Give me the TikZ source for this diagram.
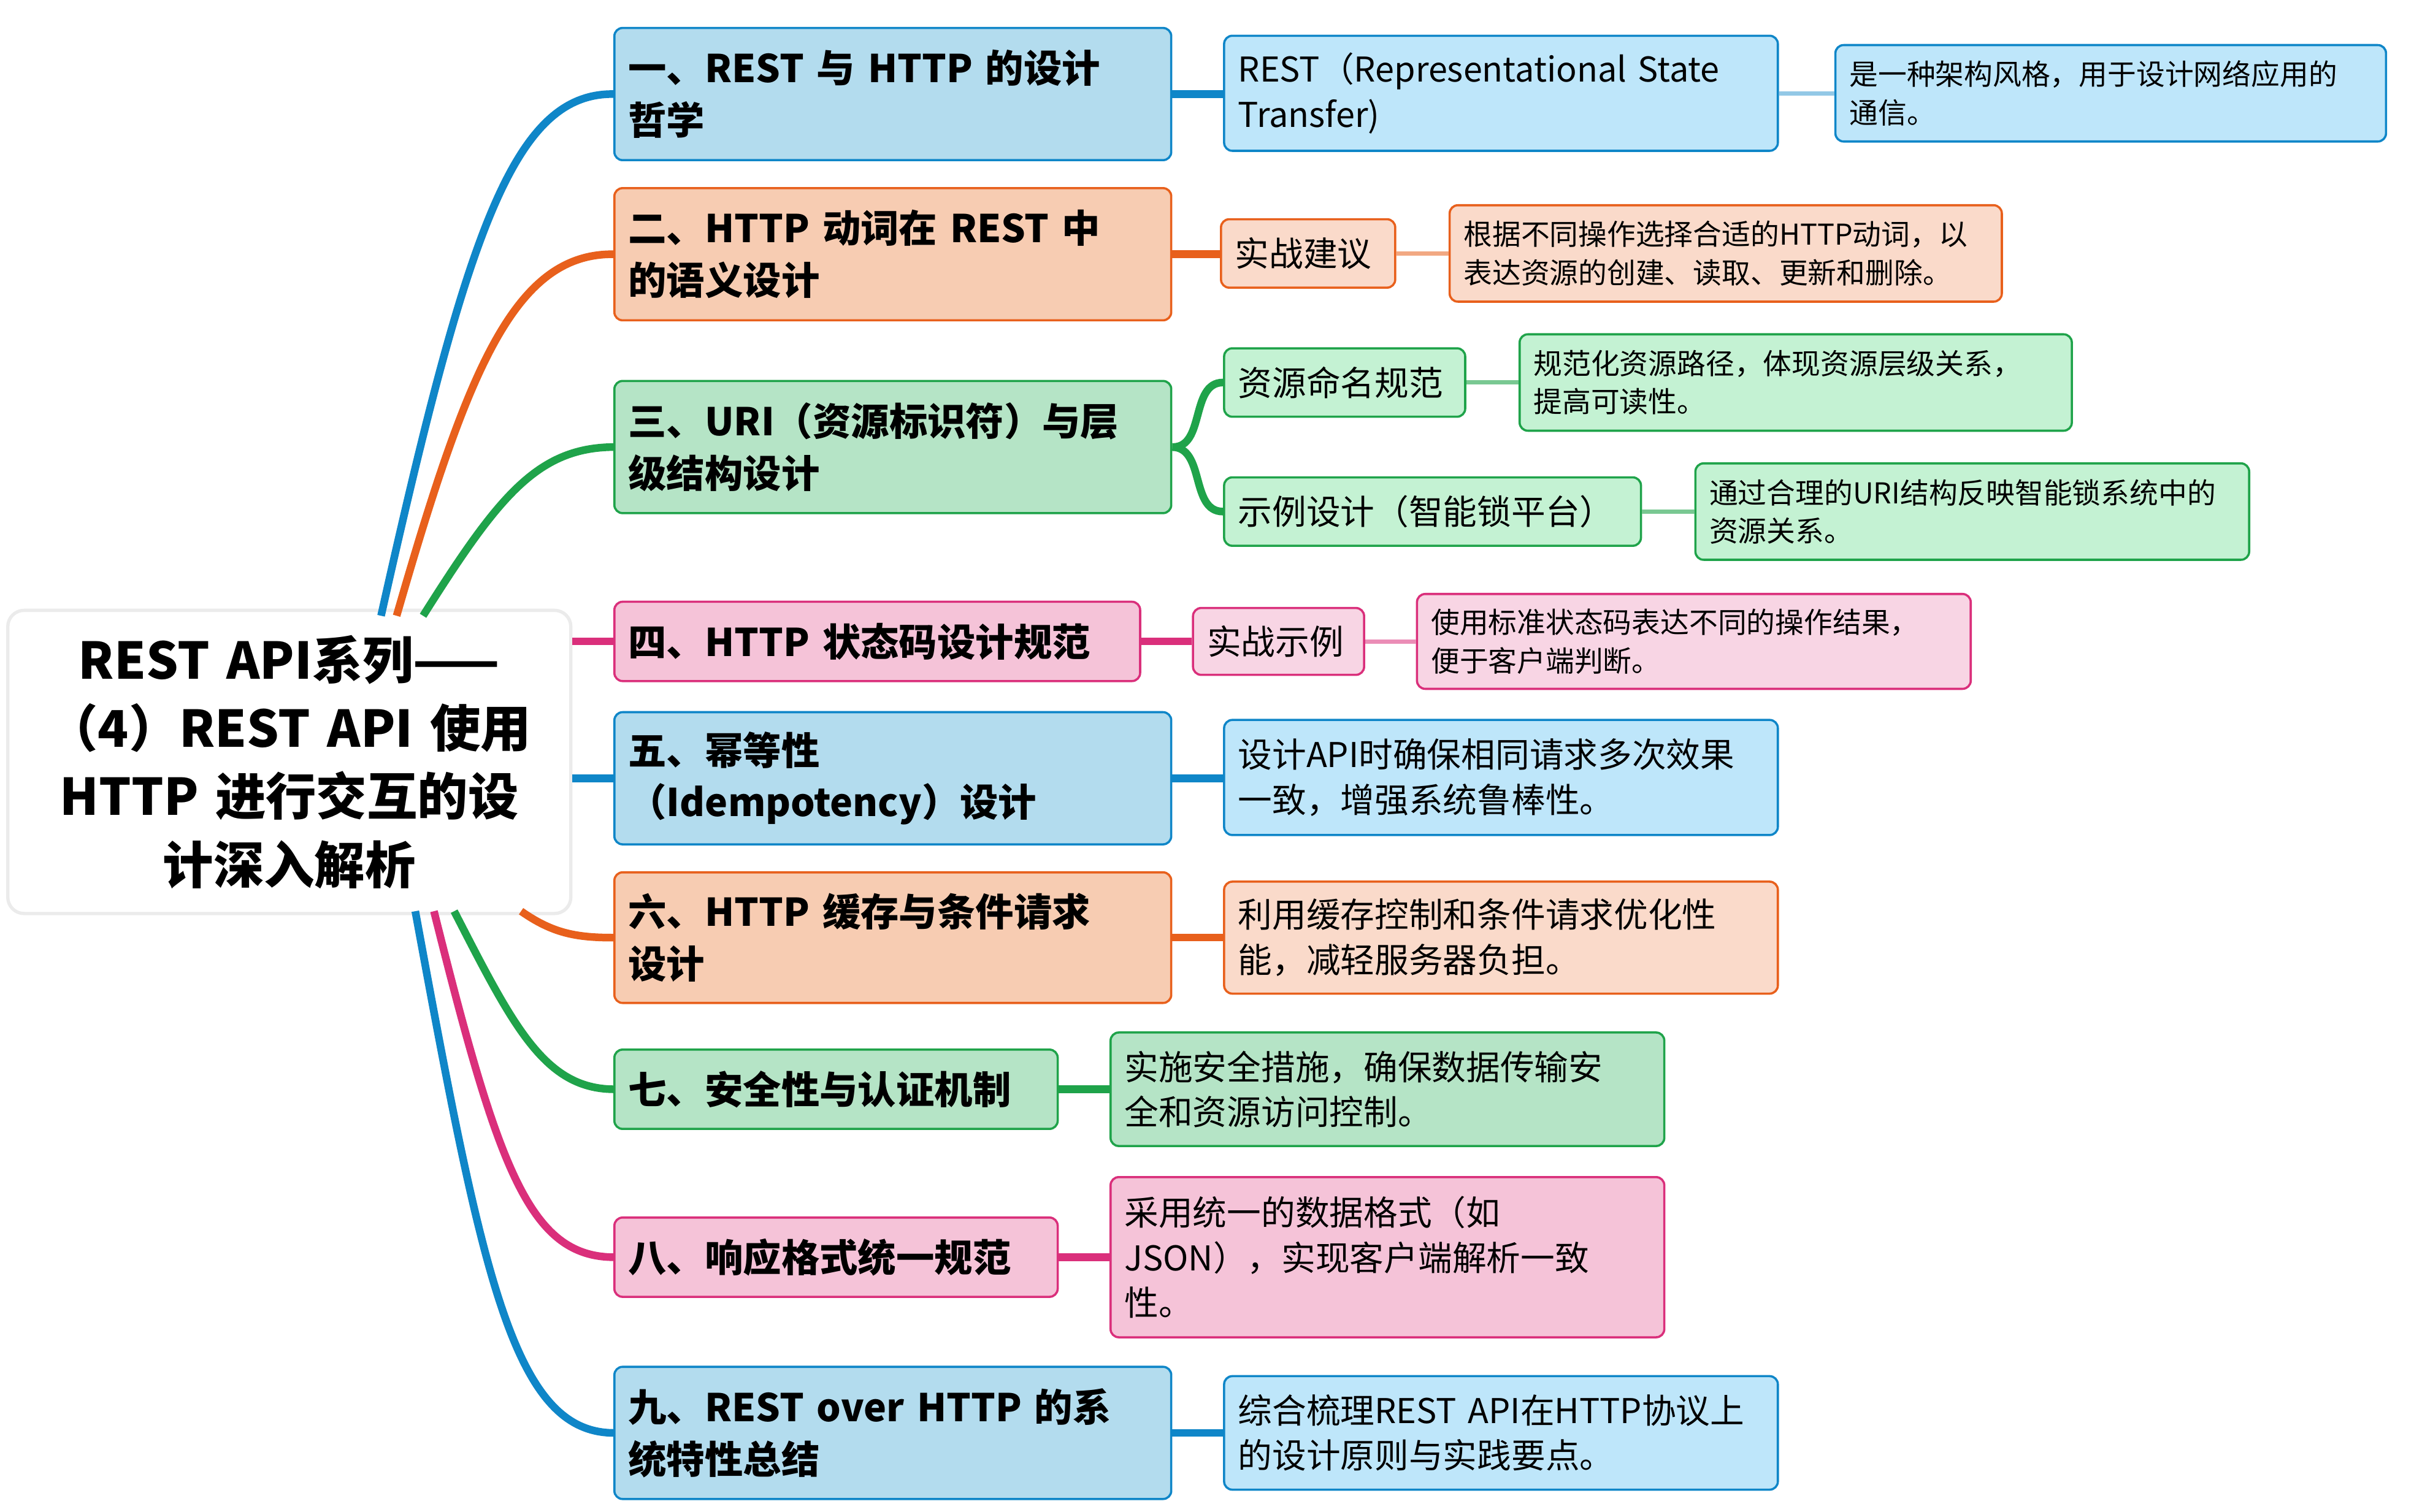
\documentclass[tikz,border=0pt]{standalone}
\usepackage{fontspec}
\setmainfont{Noto Sans CJK SC}
\usetikzlibrary{positioning,calc}
\definecolor{cblue}{HTML}{0F86C8}
\definecolor{fblue}{HTML}{B3DCEE}
\definecolor{lblue}{HTML}{BEE6FA}
\definecolor{corange}{HTML}{E8601C}
\definecolor{forange}{HTML}{F7CCB2}
\definecolor{lorange}{HTML}{FADACA}
\definecolor{cgreen}{HTML}{1FA34A}
\definecolor{fgreen}{HTML}{B5E4C6}
\definecolor{lgreen}{HTML}{C4F2D3}
\definecolor{cpink}{HTML}{DA2F7B}
\definecolor{fpink}{HTML}{F5C3D8}
\definecolor{lpink}{HTML}{F8D5E4}
% box from (x1,y1) to (x2,y2) in reference pixels
\newcommand{\boxnode}[7]{%
  \pgfmathsetmacro{\bw}{(#4-#2)*0.02}%
  \pgfmathsetmacro{\bh}{(#5-#3)*0.02}%
  \pgfmathsetmacro{\tw}{(#4-#2-18)*0.02}%
  \node[#6, minimum width=\bw cm, minimum height=\bh cm, text width=\tw cm]
    (#1) at ({(#2+#4)/2},{(#3+#5)/2}) {#7};}
\begin{document}
\begin{tikzpicture}[x=0.02cm,y=-0.02cm,
    box/.style={draw, rounded corners=3pt, inner sep=0pt, align=left, line width=0.8pt},
    main/.style={box, font=\fontsize{14}{19}\selectfont\bfseries},
    mid/.style={box, font=\fontsize{12.5}{16.5}\selectfont},
    small/.style={box, font=\fontsize{10.5}{14}\selectfont},
    bl/.style={draw=cblue, fill=#1}, or/.style={draw=corange, fill=#1},
    gr/.style={draw=cgreen, fill=#1}, pk/.style={draw=cpink, fill=#1},
    trunk/.style={line width=2.8pt}, twig/.style={line width=1.6pt}]
  \useasboundingbox (0,0) rectangle (1552,972);
  % root
  \node[fill=white, draw=black!8, line width=1.2pt, rounded corners=6pt,
    minimum width=362*0.02cm, minimum height=195*0.02cm,
    align=center, text width=345*0.02cm, inner sep=0pt,
    font=\fontsize{18.5}{25}\selectfont\bfseries] (root) at (186,490)
    {REST API系列——\\（4）REST API 使用\\HTTP 进行交互的设\\计深入解析};
  % branches
  \boxnode{b1}{395}{18}{753}{103}{main,bl=fblue}{一、REST 与 HTTP 的设计\\哲学}
  \boxnode{b2}{395}{121}{753}{206}{main,or=forange}{二、HTTP 动词在 REST 中\\的语义设计}
  \boxnode{b3}{395}{245}{753}{330}{main,gr=fgreen}{三、URI（资源标识符）与层\\级结构设计}
  \boxnode{b4}{395}{387}{733}{438}{main,pk=fpink}{四、HTTP 状态码设计规范}
  \boxnode{b5}{395}{458}{753}{543}{main,bl=fblue}{五、幂等性\\（Idempotency）设计}
  \boxnode{b6}{395}{561}{753}{645}{main,or=forange}{六、HTTP 缓存与条件请求\\设计}
  \boxnode{b7}{395}{675}{680}{726}{main,gr=fgreen}{七、安全性与认证机制}
  \boxnode{b8}{395}{783}{680}{834}{main,pk=fpink}{八、响应格式统一规范}
  \boxnode{b9}{395}{879}{753}{964}{main,bl=fblue}{九、REST over HTTP 的系\\统特性总结}
  % leaves
  \boxnode{l1}{787}{23}{1143}{97}{mid,bl=lblue}{REST（Representational State\\Transfer)}
  \boxnode{l1a}{1180}{29}{1534}{91}{small,bl=lblue}{是一种架构风格，用于设计网络应用的\\通信。}
  \boxnode{l2}{785}{141}{897}{185}{mid,or=lorange}{实战建议}
  \boxnode{l2a}{932}{132}{1287}{194}{small,or=lorange}{根据不同操作选择合适的HTTP动词，以\\表达资源的创建、读取、更新和删除。}
  \boxnode{l3}{787}{224}{942}{268}{mid,gr=lgreen}{资源命名规范}
  \boxnode{l3a}{977}{215}{1332}{277}{small,gr=lgreen}{规范化资源路径，体现资源层级关系，\\提高可读性。}
  \boxnode{l3b}{787}{307}{1055}{351}{mid,gr=lgreen}{示例设计（智能锁平台）}
  \boxnode{l3c}{1090}{298}{1446}{360}{small,gr=lgreen}{通过合理的URI结构反映智能锁系统中的\\资源关系。}
  \boxnode{l4}{767}{391}{877}{434}{mid,pk=lpink}{实战示例}
  \boxnode{l4a}{911}{382}{1267}{443}{small,pk=lpink}{使用标准状态码表达不同的操作结果，\\便于客户端判断。}
  \boxnode{l5}{787}{463}{1143}{537}{mid,bl=lblue}{设计API时确保相同请求多次效果\\一致，增强系统鲁棒性。}
  \boxnode{l6}{787}{567}{1143}{639}{mid,or=lorange}{利用缓存控制和条件请求优化性\\能，减轻服务器负担。}
  \boxnode{l7}{714}{664}{1070}{737}{mid,gr=fgreen}{实施安全措施，确保数据传输安\\全和资源访问控制。}
  \boxnode{l8}{714}{757}{1070}{860}{mid,pk=fpink}{采用统一的数据格式（如\\JSON），实现客户端解析一致\\性。}
  \boxnode{l9}{787}{885}{1143}{958}{mid,bl=lblue}{综合梳理REST API在HTTP协议上\\的设计原则与实践要点。}
  % trunk connectors
  \coordinate (r1) at (245,396);
  \coordinate (r2) at (255,396);
  \coordinate (r3) at (272,396);
  \coordinate (r6) at (335,586);
  \coordinate (r7) at (292,586);
  \coordinate (r8) at (279,586);
  \coordinate (r9) at (267,586);
  \begin{scope}[on background layer/.style={}]
  \draw[trunk,cblue] (r1) .. controls (300,150) and (330,60) .. (b1.west);
  \draw[trunk,corange] (r2) .. controls (300,240) and (330,163) .. (b2.west);
  \draw[trunk,cgreen] (r3) .. controls (320,320) and (345,288) .. (b3.west);
  \draw[trunk,cpink] (root.east |- b4.west) -- (b4.west);
  \draw[trunk,cblue] (root.east |- b5.west) -- (b5.west);
  \draw[trunk,corange] (r6) .. controls (355,600) and (370,603) .. (b6.west);
  \draw[trunk,cgreen] (r7) .. controls (330,660) and (350,700) .. (b7.west);
  \draw[trunk,cpink] (r8) .. controls (320,750) and (340,808) .. (b8.west);
  \draw[trunk,cblue] (r9) .. controls (310,820) and (330,921) .. (b9.west);
  \end{scope}
  % branch to leaf
  \draw[trunk,cblue] (b1.east) -- (b1.east -| l1.west);
  \draw[twig,cblue!45] (l1.east) -- (l1.east -| l1a.west);
  \draw[trunk,corange] (b2.east) -- (b2.east -| l2.west);
  \draw[twig,corange!55] (l2.east) -- (l2.east -| l2a.west);
  \draw[trunk,cgreen] (b3.east) .. controls (775,288) and (765,246) .. (l3.west);
  \draw[trunk,cgreen] (b3.east) .. controls (775,288) and (765,329) .. (l3b.west);
  \draw[twig,cgreen!60] (l3.east) -- (l3.east -| l3a.west);
  \draw[twig,cgreen!60] (l3b.east) -- (l3b.east -| l3c.west);
  \draw[trunk,cpink] (b4.east) -- (b4.east -| l4.west);
  \draw[twig,cpink!55] (l4.east) -- (l4.east -| l4a.west);
  \draw[trunk,cblue] (b5.east) -- (b5.east -| l5.west);
  \draw[trunk,corange] (b6.east) -- (b6.east -| l6.west);
  \draw[trunk,cgreen] (b7.east) -- (b7.east -| l7.west);
  \draw[trunk,cpink] (b8.east) -- (b8.east -| l8.west);
  \draw[trunk,cblue] (b9.east) -- (b9.east -| l9.west);
\end{tikzpicture}
\end{document}
